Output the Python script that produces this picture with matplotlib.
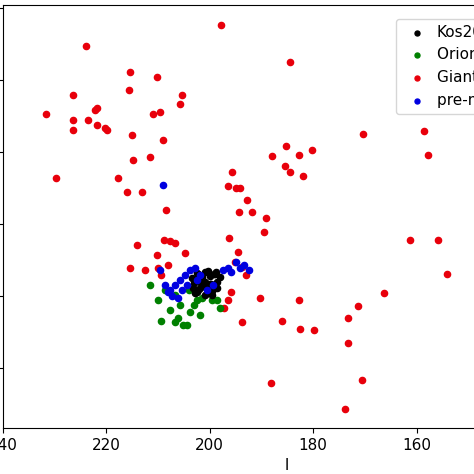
import matplotlib
matplotlib.use("Agg")
import matplotlib.pyplot as plt

red_l = [231.7,229.8,226.5,226.5,226.5,224,223.5,222.1,221.7,219.8,221.7,220.2,217.7,216,215.4,215.6,215,214.8,213,211.5,210.2,209.6,209,208.5,205.8,205.4,211,197.9,195.6,195,196.5,194.4,194.2,192.7,191.9,189.2,189.4,187.9,185.2,184.4,185.4,184.4,182.7,181.9,180.2,170.4,158.5,157.7,161.2,155.8,154.2,166.3,171.3,173.3,173.3,179.8,182.5,182.7,186,188.1,173.8,170.6,190.2,193.8,192.9,193.7,196.2,195.2,194.6,214,215.4,212.5,210.2,208.8,207.7,206.7,204.8,208.1,210,209.4,196.5,197.3,195.8]
red_b = [5.3,-3.6,7.9,4.4,3.0,14.7,4.4,5.8,3.7,3.0,6.1,3.3,-3.6,-5.6,11.1,8.6,2.4,-1.1,-5.6,-0.7,10.4,5.5,1.7,-8.1,6.7,7.9,5.3,17.6,-2.8,-5.0,-4.7,-8.3,-5.0,-6.7,-8.3,-9.2,-11.1,-0.6,0.8,12.5,-2.0,-2.8,-0.4,-3.3,0.3,2.5,2.9,-0.4,-12.2,-12.2,-17,-19.6,-21.4,-23.1,-26.5,-24.7,-24.5,-20.6,-23.5,-32.1,-35.7,-31.7,-20.3,-23.6,-17.1,-16.0,-12.0,-15.3,-13.9,-12.9,-16.1,-16.4,-14.3,-12.2,-12.4,-12.7,-14.0,-15.7,-16.1,-17.1,-20.6,-21.7,-19.5]
green_l = [211.5,210,209.4,206.7,206.2,205.2,204.3,203.8,203,202.5,201.4,199.5,198,198.5,204,206.7,208.7,201.8,207.7,205.8]
green_b = [-18.5,-20.6,-23.5,-23.6,-23.1,-24.0,-24.0,-22.2,-21.3,-20.6,-20.3,-20.6,-21.7,-20.6,-19.2,-19.9,-19.2,-22.6,-22.0,-21.3]
black_l = [203.5,203,202.5,202,201.5,201,200.5,200,199.5,199,198.5,198,202.8,202.2,201.6,201,200.4,199.8,199.2,198.6,203.2,202.4,201.4,200.6,199.6,198.8,201.9,200.9,199.9,201.2]
black_b = [-17.5,-18.2,-16.8,-19.0,-17.8,-16.6,-18.6,-17.2,-19.3,-16.9,-18.0,-17.4,-19.6,-17.0,-18.8,-19.9,-16.5,-18.3,-17.0,-18.9,-18.9,-19.4,-17.3,-19.6,-19.8,-16.7,-18.0,-18.1,-18.3,-17.9]
blue_l = [209,209.6,208.7,207.7,206.7,205.8,204.8,203.8,202.9,201.9,206.2,207.3,208.1,205.4,204.3,197.5,196.5,195.8,194.2,193.3,192.3,195,199.4,200.5,202.5]
blue_b = [-4.6,-16.4,-18.5,-19.2,-18.5,-17.8,-17.1,-16.4,-16.1,-17.1,-20.3,-20.0,-19.5,-19.2,-18.5,-16.4,-16.1,-16.7,-16.1,-15.7,-16.4,-15.3,-18.5,-19.2,-17.8]

fig = plt.figure(figsize=(4.74, 4.74), dpi=100)
ax = fig.add_axes([0.006, 0.097, 1.2, 0.893])
ms = 20
ax.scatter(black_l, black_b, s=ms, c='black', label='Kos2017', zorder=4)
ax.scatter(green_l, green_b, s=ms, c='green', label='Orion members', zorder=3)
ax.scatter(red_l, red_b, s=ms, c='#e8000b', label='Giant stars', zorder=2)
ax.scatter(blue_l, blue_b, s=ms, c='#0000e0', label='pre-main sequence', zorder=5)
ax.set_xlim(240, 130)
ax.set_ylim(-38.3, 20.4)
ax.set_xticks([240, 220, 200, 180, 160, 140])
ax.set_yticks([-30, -20, -10, 0, 10, 20])
ax.tick_params(labelsize=11)
ax.set_xlabel('l', fontsize=11)
ax.legend(loc='upper left', bbox_to_anchor=(0.677, 0.985), fontsize=11, handletextpad=0.3, markerscale=0.8)
fig.savefig('out.png', dpi=100)
